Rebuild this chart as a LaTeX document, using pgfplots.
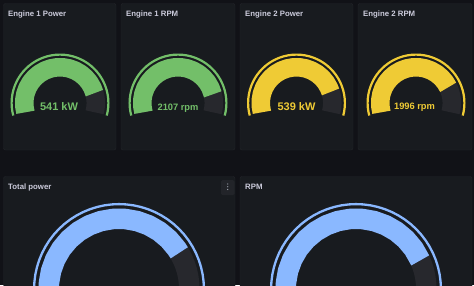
\documentclass[border=0pt]{standalone}
\usepackage{fontspec}
\setmainfont{Liberation Sans}
\usepackage{pgfplots}
\pgfplotsset{compat=1.18}
\usepackage{pgfplotstable}

\definecolor{pagebg}{HTML}{111217}
\definecolor{panelbg}{HTML}{181B1F}
\definecolor{panelbd}{HTML}{23252A}
\definecolor{gtrack}{HTML}{27282D}
\definecolor{ggreen}{HTML}{73BF69}
\definecolor{gyellow}{HTML}{EFCB35}
\definecolor{gblue}{HTML}{8AB8FF}
\definecolor{titlec}{HTML}{CCCCDC}
\definecolor{menubg}{HTML}{222429}
\definecolor{menudot}{HTML}{A0A6B0}

% full gauge sweep: angle (deg), radii of ring and band (px) for top and bottom gauges
\pgfplotstableread{
a rt bt rb bb
195 48.4 35.8 84.9 70.3
190 48.4 35.8 84.9 70.3
185 48.4 35.8 84.9 70.3
180 48.4 35.8 84.9 70.3
175 48.4 35.8 84.9 70.3
170 48.4 35.8 84.9 70.3
165 48.4 35.8 84.9 70.3
160 48.4 35.8 84.9 70.3
155 48.4 35.8 84.9 70.3
150 48.4 35.8 84.9 70.3
145 48.4 35.8 84.9 70.3
140 48.4 35.8 84.9 70.3
135 48.4 35.8 84.9 70.3
130 48.4 35.8 84.9 70.3
125 48.4 35.8 84.9 70.3
120 48.4 35.8 84.9 70.3
115 48.4 35.8 84.9 70.3
110 48.4 35.8 84.9 70.3
105 48.4 35.8 84.9 70.3
100 48.4 35.8 84.9 70.3
95 48.4 35.8 84.9 70.3
90 48.4 35.8 84.9 70.3
85 48.4 35.8 84.9 70.3
80 48.4 35.8 84.9 70.3
75 48.4 35.8 84.9 70.3
70 48.4 35.8 84.9 70.3
65 48.4 35.8 84.9 70.3
60 48.4 35.8 84.9 70.3
55 48.4 35.8 84.9 70.3
50 48.4 35.8 84.9 70.3
45 48.4 35.8 84.9 70.3
40 48.4 35.8 84.9 70.3
35 48.4 35.8 84.9 70.3
30 48.4 35.8 84.9 70.3
25 48.4 35.8 84.9 70.3
20 48.4 35.8 84.9 70.3
15 48.4 35.8 84.9 70.3
10 48.4 35.8 84.9 70.3
5 48.4 35.8 84.9 70.3
0 48.4 35.8 84.9 70.3
-5 48.4 35.8 84.9 70.3
-10 48.4 35.8 84.9 70.3
-15 48.4 35.8 84.9 70.3
}\arcs

\pgfplotsset{
  gauge/.style={anchor=origin, x=1pt, y=1pt, xmin=-1, xmax=1, ymin=-1, ymax=1,
    hide axis, clip=false, scale only axis},
  track top/.style={data cs=polar, no marks, draw=gtrack, line width=18.5pt, line cap=butt, line join=round},
  ring top/.style={data cs=polar, no marks, draw=#1, line width=2.2pt, line cap=butt, line join=round},
  val top/.style={data cs=polar, no marks, draw=#1, line width=18.5pt, line cap=butt, line join=round},
  track bot/.style={data cs=polar, no marks, draw=gtrack, line width=20.5pt, line cap=butt, line join=round},
  ring bot/.style={data cs=polar, no marks, draw=#1, line width=2.3pt, line cap=butt, line join=round},
  val bot/.style={data cs=polar, no marks, draw=#1, line width=20.5pt, line cap=butt, line join=round},
}
\newcommand{\ttl}{\fontsize{7.8}{9}\selectfont\bfseries}
\newcommand{\valbig}{\fontsize{11}{12}\selectfont\bfseries}
\newcommand{\valsmall}{\fontsize{9.3}{10}\selectfont\bfseries}

\begin{document}
\begin{tikzpicture}[x=1pt,y=1pt]
\path[use as bounding box, clip] (0pt,0pt) rectangle (474pt,285pt);
\fill[pagebg] (0pt,0pt) rectangle (474pt,285pt);
% panels
\filldraw[fill=panelbg, draw=panelbd, rounded corners=2pt] (3.5pt,135pt) rectangle (116pt,281.5pt);
\filldraw[fill=panelbg, draw=panelbd, rounded corners=2pt] (121pt,135pt) rectangle (235pt,281.5pt);
\filldraw[fill=panelbg, draw=panelbd, rounded corners=2pt] (240pt,135pt) rectangle (353pt,281.5pt);
\filldraw[fill=panelbg, draw=panelbd, rounded corners=2pt] (358pt,135pt) rectangle (472pt,281.5pt);
\filldraw[fill=panelbg, draw=panelbd, rounded corners=2pt] (3.5pt,-10pt) rectangle (235pt,108.5pt);
\filldraw[fill=panelbg, draw=panelbd, rounded corners=2pt] (240pt,-10pt) rectangle (472pt,108.5pt);
% titles
\node[anchor=base west, inner sep=0pt, text=titlec, font=\ttl] at (8pt,269pt) {Engine 1 Power};
\node[anchor=base west, inner sep=0pt, text=titlec, font=\ttl] at (126pt,269pt) {Engine 1 RPM};
\node[anchor=base west, inner sep=0pt, text=titlec, font=\ttl] at (245pt,269pt) {Engine 2 Power};
\node[anchor=base west, inner sep=0pt, text=titlec, font=\ttl] at (363pt,269pt) {Engine 2 RPM};
\node[anchor=base west, inner sep=0pt, text=titlec, font=\ttl] at (8pt,95.5pt) {Total power};
\node[anchor=base west, inner sep=0pt, text=titlec, font=\ttl] at (245pt,95.5pt) {RPM};
% panel menu
\fill[menubg, rounded corners=1.5pt] (221pt,90pt) rectangle (234.5pt,105pt);
\fill[menudot] (227.7pt,101pt) circle (0.65pt);
\fill[menudot] (227.7pt,98.3pt) circle (0.65pt);
\fill[menudot] (227.7pt,95.6pt) circle (0.65pt);

% Engine 1 Power
\begin{axis}[gauge, at={(60pt,182pt)}]
\addplot[track top] table[x=a, y=bt] {\arcs};
\addplot[ring top=ggreen] table[x=a, y=rt] {\arcs};
\addplot[val top=ggreen] coordinates {(195,35.8)(185,35.8)(175,35.8)(165,35.8)(155,35.8)(145,35.8)(135,35.8)(125,35.8)(115,35.8)(105,35.8)(95,35.8)(85,35.8)(75,35.8)(65,35.8)(55,35.8)(45,35.8)(35,35.8)(25,35.8)(16,35.8)};
\node[anchor=base, text=ggreen, font=\valbig, inner sep=0pt] at (axis cs:-1,-7.7) {541 kW};
\end{axis}

% Engine 1 RPM
\begin{axis}[gauge, at={(178pt,182pt)}]
\addplot[track top] table[x=a, y=bt] {\arcs};
\addplot[ring top=ggreen] table[x=a, y=rt] {\arcs};
\addplot[val top=ggreen] coordinates {(195,35.8)(185,35.8)(175,35.8)(165,35.8)(155,35.8)(145,35.8)(135,35.8)(125,35.8)(115,35.8)(105,35.8)(95,35.8)(85,35.8)(75,35.8)(65,35.8)(55,35.8)(45,35.8)(35,35.8)(25,35.8)(14,35.8)};
\node[anchor=base, text=ggreen, font=\valsmall, inner sep=0pt] at (axis cs:0,-7) {2107 rpm};
\end{axis}

% Engine 2 Power
\begin{axis}[gauge, at={(296.5pt,182pt)}]
\addplot[track top] table[x=a, y=bt] {\arcs};
\addplot[ring top=gyellow] table[x=a, y=rt] {\arcs};
\addplot[val top=gyellow] coordinates {(195,35.8)(185,35.8)(175,35.8)(165,35.8)(155,35.8)(145,35.8)(135,35.8)(125,35.8)(115,35.8)(105,35.8)(95,35.8)(85,35.8)(75,35.8)(65,35.8)(55,35.8)(45,35.8)(35,35.8)(25,35.8)(18,35.8)};
\node[anchor=base, text=gyellow, font=\valbig, inner sep=0pt] at (axis cs:0,-7.7) {539 kW};
\end{axis}

% Engine 2 RPM
\begin{axis}[gauge, at={(416pt,182pt)}]
\addplot[track top] table[x=a, y=bt] {\arcs};
\addplot[ring top=gyellow] table[x=a, y=rt] {\arcs};
\addplot[val top=gyellow] coordinates {(195,35.8)(185,35.8)(175,35.8)(165,35.8)(155,35.8)(145,35.8)(135,35.8)(125,35.8)(115,35.8)(105,35.8)(95,35.8)(85,35.8)(75,35.8)(65,35.8)(55,35.8)(45,35.8)(35,35.8)(26,35.8)};
\node[anchor=base, text=gyellow, font=\valsmall, inner sep=0pt] at (axis cs:-1.5,-6.5) {1996 rpm};
\end{axis}

% Total power
\begin{axis}[gauge, at={(119pt,-4pt)}]
\addplot[track bot] table[x=a, y=bb] {\arcs};
\addplot[ring bot=gblue] table[x=a, y=rb] {\arcs};
\addplot[val bot=gblue] coordinates {(195,70.3)(185,70.3)(175,70.3)(165,70.3)(155,70.3)(145,70.3)(135,70.3)(125,70.3)(115,70.3)(105,70.3)(95,70.3)(85,70.3)(75,70.3)(65,70.3)(55,70.3)(45,70.3)(35,70.3)(31,70.3)};
\end{axis}

% RPM
\begin{axis}[gauge, at={(356pt,-4pt)}]
\addplot[track bot] table[x=a, y=bb] {\arcs};
\addplot[ring bot=gblue] table[x=a, y=rb] {\arcs};
\addplot[val bot=gblue] coordinates {(195,70.3)(185,70.3)(175,70.3)(165,70.3)(155,70.3)(145,70.3)(135,70.3)(125,70.3)(115,70.3)(105,70.3)(95,70.3)(85,70.3)(75,70.3)(65,70.3)(55,70.3)(45,70.3)(35,70.3)(24,70.3)};
\end{axis}
\end{tikzpicture}
\end{document}
